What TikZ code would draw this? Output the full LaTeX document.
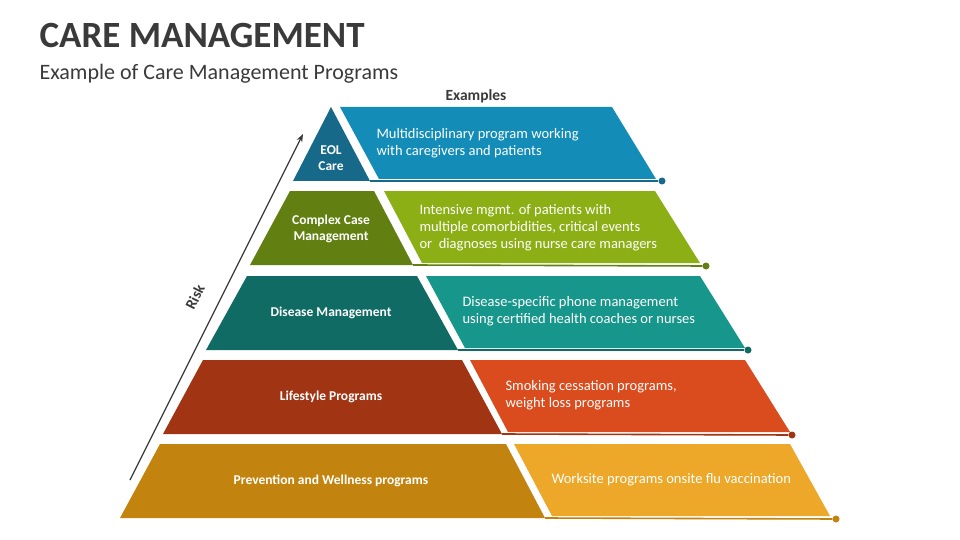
\documentclass[tikz,border=0pt]{standalone}
\usepackage{fontspec}
\setmainfont{Carlito}
\usetikzlibrary{arrows.meta}
\definecolor{c1l}{HTML}{17698A}\definecolor{c1r}{HTML}{138DB8}
\definecolor{c2l}{HTML}{627F12}\definecolor{c2r}{HTML}{8BAF14}
\definecolor{c3l}{HTML}{0F6B64}\definecolor{c3r}{HTML}{17968B}
\definecolor{c4l}{HTML}{A03413}\definecolor{c4r}{HTML}{DA4B1D}
\definecolor{c5l}{HTML}{C2840F}\definecolor{c5r}{HTML}{EDA82A}
\definecolor{ttl}{HTML}{3A3A3A}
\tikzset{lbl/.style={text=white,font=\fontsize{13.5}{16}\selectfont\bfseries,align=center},
 txt/.style={text=white,font=\fontsize{14.5}{17}\selectfont,align=left,anchor=west},
 baseln/.style={line width=1.6pt},dotm/.style={circle,inner sep=0pt,minimum size=7pt}}
\begin{document}
\begin{tikzpicture}[x=1pt,y=-1pt]
\useasboundingbox (0,0) rectangle (960,540);
\node[anchor=west,text=ttl,font=\fontsize{37}{40}\selectfont\bfseries] (t) at (36,35) {CARE MANAGEMENT};
\node[anchor=west,text=ttl,font=\fontsize{22}{26}\selectfont] (s) at (36,74) {Example of Care Management Programs};
\node[text=ttl,font=\fontsize{15.5}{18}\selectfont\bfseries] (ex) at (476,96) {Examples};
% level 1
\fill[c1l] (331,107) -- (370,181) -- (293,181) -- cycle;
\fill[c1r] (340,107) -- (612,107) -- (656,179) -- (379,179) -- cycle;
\node[lbl] (l1) at (331,158) {EOL\\Care};
\node[txt] (r1) at (373,143) {Multidisciplinary program working\\with caregivers and patients};
\coordinate (a1) at (370,181); \node[dotm,fill=c1l] (d1) at (662,181) {};
\draw[baseln,c1l] (a1) -- (d1);
% level 2
\fill[c2l] (290,191) -- (374,191) -- (413,265) -- (250,265) -- cycle;
\fill[c2r] (384,191) -- (655,191) -- (700,263) -- (422,263) -- cycle;
\node[lbl] (l2) at (331,229) {Complex Case\\Management};
\node[txt] (r2) at (416,228) {Intensive mgmt. of patients with\\multiple comorbidities, critical events\\or\ \ diagnoses using nurse care managers};
\coordinate (a2) at (413,265); \node[dotm,fill=c2l] (d2) at (706,266) {};
\draw[baseln,c2l] (a2) -- (d2);
% level 3
\fill[c3l] (247,276) -- (417,276) -- (458,350) -- (206,350) -- cycle;
\fill[c3r] (426,276) -- (700,276) -- (745,348) -- (465,348) -- cycle;
\node[lbl] (l3) at (331,313) {Disease Management};
\node[txt] (r3) at (459,311) {Disease-specific phone management\\using certified health coaches or nurses};
\coordinate (a3) at (458,350); \node[dotm,fill=c3l] (d3) at (748,350) {};
\draw[baseln,c3l] (a3) -- (d3);
% level 4
\fill[c4l] (203,360) -- (462,360) -- (502,434) -- (163,434) -- cycle;
\fill[c4r] (470,360) -- (745,360) -- (790,432) -- (508,432) -- cycle;
\node[lbl] (l4) at (331,397) {Lifestyle Programs};
\node[txt] (r4) at (502,395) {Smoking cessation programs,\\weight loss programs};
\coordinate (a4) at (502,434); \node[dotm,fill=c4l] (d4) at (792,435) {};
\draw[baseln,c4l] (a4) -- (d4);
% level 5
\fill[c5l] (160,444) -- (506,444) -- (545,518) -- (120,518) -- cycle;
\fill[c5r] (514,444) -- (790,444) -- (830,516) -- (552,516) -- cycle;
\node[lbl] (l5) at (331,481) {Prevention and Wellness programs};
\node[txt] (r5) at (548,480) {Worksite programs onsite flu vaccination};
\coordinate (a5) at (545,518); \node[dotm,fill=c5l] (d5) at (836,519) {};
\draw[baseln,c5l] (a5) -- (d5);
% risk arrow
\coordinate (rs) at (130,480); \coordinate (re) at (303,134);
\draw[ttl,line width=1.2pt,-{Stealth[length=8pt]}] (rs) -- (re);
\node[text=ttl,font=\fontsize{15}{17}\selectfont\bfseries,rotate=63.4,inner sep=1pt] (rk) at (195,297) {Risk};
\end{tikzpicture}
\end{document}
